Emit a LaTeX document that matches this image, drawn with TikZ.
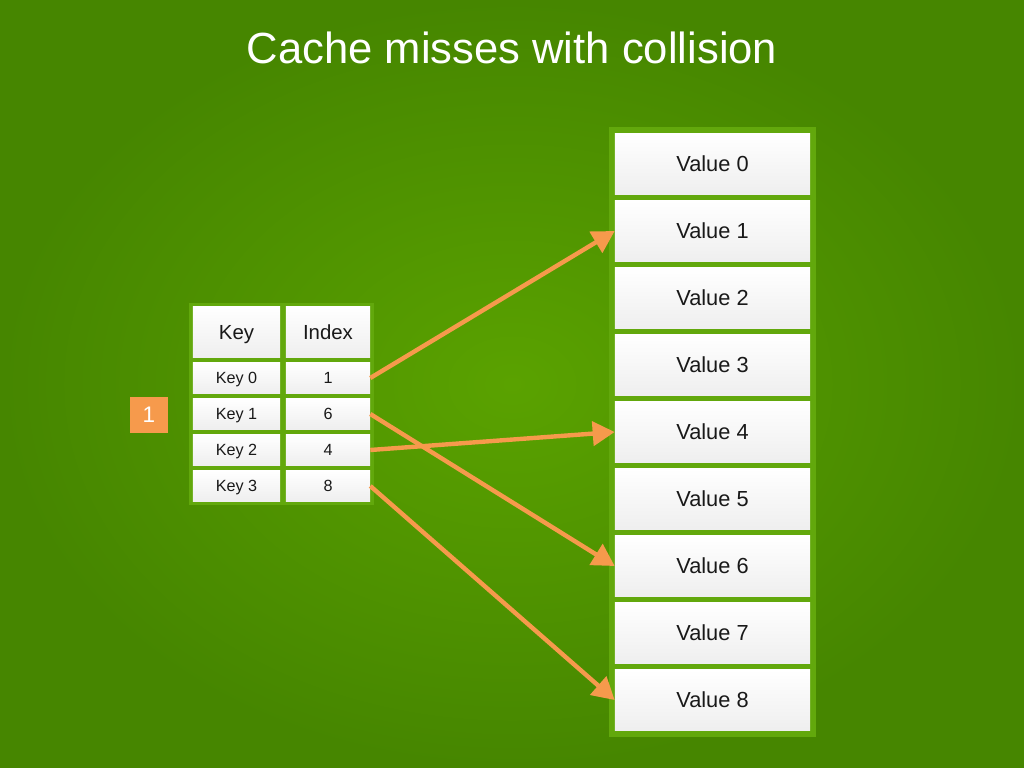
\documentclass[tikz,border=0pt]{standalone}
\usepackage{fontspec}
\setmainfont{Liberation Sans}
\usetikzlibrary{arrows.meta}

\definecolor{bgin}{RGB}{90,162,0}
\definecolor{bgout}{RGB}{70,134,0}
\definecolor{framegreen}{RGB}{98,168,12}
\definecolor{ptrorange}{RGB}{246,154,76}
\definecolor{boxtext}{RGB}{25,25,25}

\tikzset{
  valbox/.style={top color=white, bottom color=gray!13, text=boxtext, inner sep=0pt,
    text height=11.1pt, text depth=0pt,
    minimum width=4.875cm, minimum height=1.52cm, font=\fontsize{15.5}{18}\selectfont},
  headcell/.style={top color=white, bottom color=gray!13, text=boxtext, inner sep=0pt,
    text height=10.4pt, text depth=0pt,
    minimum height=1.25cm, font=\fontsize{14.5}{17}\selectfont},
  cell/.style={top color=white, bottom color=gray!13, text=boxtext, inner sep=0pt,
    text height=8.2pt, text depth=0pt,
    minimum height=0.77cm, font=\fontsize{11.5}{14}\selectfont},
  ptr/.style={ptrorange, line width=0.11cm, -{Triangle[length=0.55cm,width=0.6cm]}},
}

\begin{document}
\begin{tikzpicture}[x=0.025cm,y=-0.025cm]
  \useasboundingbox (0,0) rectangle (1024,768);
  \shade[inner color=bgin, outer color=bgout] (0,0) rectangle (1024,768);
  \node[white, font=\fontsize{31}{36}\selectfont] (title) at (512,48) {Cache misses with collision};

  % frames behind the table and the values
  \fill[framegreen] (189,303) rectangle (374,505);
  \fill[framegreen] (609,127) rectangle (816,737);

  % value array
  \foreach \i in {0,...,8}
    \node[valbox] (val\i) at (712.5,{164+67*\i}) {Value \i};

  % key/index table
  \node[headcell, minimum width=2.175cm] (keyhead) at (236.5,332) {Key};
  \node[headcell, minimum width=2.1cm] (idxhead) at (328,332) {Index};
  \foreach \i/\v in {0/1,1/6,2/4,3/8} {
    \node[cell, minimum width=2.175cm] (key\i) at (236.5,{378+36*\i}) {Key \i};
    \node[cell, minimum width=2.1cm] (idx\i) at (328,{378+36*\i}) {\v};
  }

  \node[fill=ptrorange, text=white, minimum width=0.95cm, minimum height=0.9cm, inner sep=0pt,
    font=\fontsize{16}{19}\selectfont] (step1) at (149,415) {1};

  % pointers
  \foreach \i/\v in {0/1,1/6,2/4,3/8}
    \draw[ptr] (idx\i.east) -- (val\v.west);
\end{tikzpicture}
\end{document}
